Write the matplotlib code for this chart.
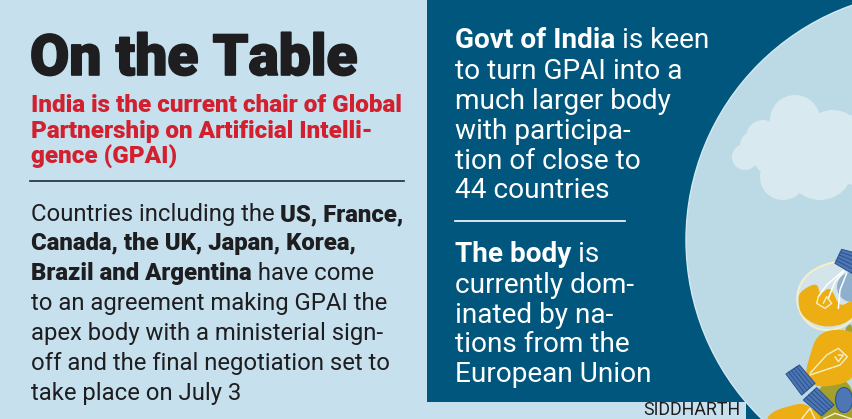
import matplotlib
matplotlib.use("Agg")
import matplotlib.pyplot as plt
import matplotlib.patheffects as pe
from matplotlib.patches import Rectangle, Circle, Ellipse, Polygon, PathPatch
from matplotlib.path import Path

title = "On the Table"
subtitle_lines = ["India is the current chair of Global",
                  "Partnership on Artificial Intelli-",
                  "gence (GPAI)"]
left_body = [[("Countries including the ", 0), ("US, France,", 1)],
             [("Canada, the UK, Japan, Korea,", 1)],
             [("Brazil and Argentina", 1), (" have come", 0)],
             [("to an agreement making GPAI the", 0)],
             [("apex body with a ministerial sign-", 0)],
             [("off and the final negotiation set to", 0)],
             [("take place on July 3", 0)]]
right_top = [[("Govt of India", 1), (" is keen", 0)],
             [("to turn GPAI into a", 0)],
             [("much larger body", 0)],
             [("with participa-", 0)],
             [("tion of close to", 0)],
             [("44 countries", 0)]]
right_bottom = [[("The body", 1), (" is", 0)],
                [("currently dom-", 0)],
                [("inated by na-", 0)],
                [("tions from the", 0)],
                [("European Union", 0)]]
credit = "SIDDHARTH"

LIGHT, DARK, CIRCLE, CLOUD = "#c6e0ed", "#00567c", "#bcdae6", "#d9e9f0"
YEL, OLIVE, BLUE, CAPEDGE = "#edae13", "#a3a12c", "#4d77b4", "#2f5590"
INK, RED = "#1e1d20", "#d3202f"

fig = plt.figure(figsize=(8.52, 4.19), dpi=100)
ax = fig.add_axes([0, 0, 1, 1])
ax.set_xlim(0, 852); ax.set_ylim(419, 0); ax.axis("off")
ax.add_patch(Rectangle((0, 0), 852, 419, fc=LIGHT, ec="none", zorder=0))
ax.add_patch(Rectangle((427, 0), 425, 419, fc=DARK, ec="none", zorder=1))
ax.add_patch(Rectangle((427, 402), 319, 17, fc=LIGHT, ec="none", zorder=1))
ax.add_patch(Circle((935, 240), 249, fc=CIRCLE, ec="#d5e8f0", lw=1, zorder=2))

for (x, y, r) in [(745, 157, 13), (753, 145, 13), (763, 137, 17), (795, 120, 25), (833, 140, 30),
                  (783, 177, 23), (820, 167, 33), (856, 150, 35), (775, 155, 22), (800, 150, 30)]:
    ax.add_patch(Circle((x, y), r, fc=CLOUD, ec="none", zorder=3))

def Z(pts):
    return [(760 + a / 3, 240 + b / 3) for a, b in pts]

def smooth(pts, fc, ec="none", lw=0, zo=4):
    # closed shape through quadratic segments between midpoints of the given points
    p = Z(pts)
    n = len(p)
    mid = lambda i: ((p[i][0] + p[(i + 1) % n][0]) / 2, (p[i][1] + p[(i + 1) % n][1]) / 2)
    v = [mid(n - 1)]; c = [Path.MOVETO]
    for i in range(n):
        v += [p[i], mid(i)]; c += [Path.CURVE3, Path.CURVE3]
    ax.add_patch(PathPatch(Path(v, c), fc=fc, ec=ec, lw=lw, zorder=zo))

def curve(pts, col="#f6efc9", lw=1, zo=7):
    x, y = zip(*Z(pts))
    ax.plot(x, y, color=col, lw=lw, zorder=zo, solid_capstyle="round")

def cap(pts, zo=6):
    p = Z(pts)
    ax.add_patch(Polygon(p, fc=BLUE, ec=CAPEDGE, lw=.8, zorder=zo, joinstyle="round"))
    (a, b, c, d) = p
    for t in [.2, .4, .6, .8]:
        ax.plot([a[0] + (b[0] - a[0]) * t, d[0] + (c[0] - d[0]) * t],
                [a[1] + (b[1] - a[1]) * t, d[1] + (c[1] - d[1]) * t], color=CAPEDGE, lw=.8, zorder=zo + 1)

# olive backdrop
smooth([(276, 245), (250, 270), (276, 290)], OLIVE, zo=3.5)
smooth([(170, 430), (276, 410), (290, 560), (150, 560)], OLIVE, zo=3.5)
# glass bulb
smooth([(250, 55), (135, 95), (100, 190), (160, 275), (265, 265), (310, 170), (285, 85)],
       "#d3e5ea", ec="#f6efc9", lw=1.4, zo=4)
smooth([(125, 150), (174, 126), (178, 168), (212, 135), (238, 205), (280, 175), (290, 235), (205, 268), (125, 235), (112, 175)],
       YEL, zo=5)
ax.add_patch(Circle((852, 287), 15, fc="#8fb0cc", ec="none", zorder=5))
curve([(175, 170), (200, 135), (250, 92)], "white", 1.1)
curve([(205, 175), (225, 125), (252, 95)], "white", 1.1)
curve([(235, 205), (240, 150), (260, 100)], "white", 1.1)
curve([(175, 170), (170, 190), (195, 205), (215, 190), (200, 170), (190, 190)], lw=1)
cap([(225, 70), (245, 28), (290, 40), (276, 100)])
# big yellow bulb
smooth([(135, 400), (150, 345), (170, 285), (225, 265), (300, 280), (296, 420), (180, 445), (150, 425)], YEL, zo=4.5)
curve([(150, 400), (200, 345), (235, 325), (262, 350), (240, 375), (150, 405)], lw=1)
curve([(225, 350), (235, 365), (250, 345), (235, 345)], lw=1)
cap([(78, 402), (118, 375), (165, 430), (125, 465)])
cap([(130, 480), (170, 443), (222, 495), (185, 527)])
ax.add_patch(Ellipse(Z([(252, 480)])[0], 17, 25, fc=BLUE, ec=CAPEDGE, lw=.8, zorder=6))
# bottom bulb
smooth([(15, 545), (35, 515), (90, 497), (135, 488), (180, 525), (190, 560), (100, 570)], YEL, zo=5)
curve([(125, 537), (150, 505), (165, 537)], lw=1)
curve([(190, 537), (225, 520), (276, 537)], lw=1)

SANS = "Roboto"
def runs(x, y, parts, size, col, bw=900, zo=8):
    r = fig.canvas.get_renderer()
    for s, b in parts:
        wt = bw if b else "normal"
        ax.text(x, y, s, fontsize=size, color=col, family=SANS, va="baseline", ha="left",
                fontweight=wt, zorder=zo)
        probe = ax.text(0, 0, s + ".", fontsize=size, family=SANS, fontweight=wt)
        p2 = ax.text(0, 0, ".", fontsize=size, family=SANS, fontweight=wt)
        x += probe.get_window_extent(r).width - p2.get_window_extent(r).width
        probe.remove(); p2.remove()

ax.text(30, 75, title, fontsize=41, fontweight=900, family=SANS, color=INK, zorder=8,
        path_effects=[pe.withStroke(linewidth=1.2, foreground=INK)])
for line, y in zip(subtitle_lines, [112, 138, 164]):
    ax.text(31, y, line, fontsize=17.5, fontweight=900, family=SANS, color=RED, zorder=8)
ax.plot([30, 404], [181, 181], color="#1f2c36", lw=1.2, zorder=8)
for parts, y in zip(left_body, [221, 250, 280, 310, 340, 370, 400]):
    runs(31, y, parts, 17.2, INK)
for parts, y in zip(right_top, [48, 79, 109, 139, 169, 198]):
    runs(455, y, parts, 20.2, "white", bw=700)
ax.plot([455, 625], [221, 221], color="white", lw=1.2, zorder=8)
for parts, y in zip(right_bottom, [262, 293, 323, 352, 382]):
    runs(455, y, parts, 20.2, "white", bw=700)
ax.text(643, 419, credit, fontsize=12.8, family=SANS, color=INK, va="bottom", zorder=8)
fig.savefig("out.png", dpi=100)
